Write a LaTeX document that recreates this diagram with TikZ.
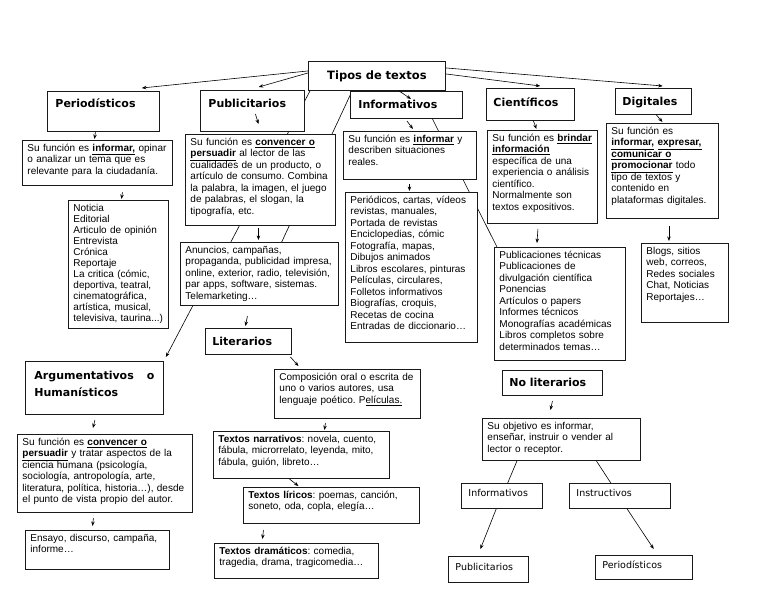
\documentclass[tikz,border=0pt]{standalone}
\usepackage{fontspec}
\setmainfont{Liberation Sans}
\newfontfamily\vfont{DejaVu Sans}
\usetikzlibrary{arrows.meta,calc}
\pgfdeclarelayer{bg}
\pgfdeclarelayer{lines}
\pgfsetlayers{bg,lines,main}
\newcommand\myul[1]{\underline{\textbf{#1}}}
\frenchspacing
\tikzset{
  bx/.style={draw=black!90, line width=0.9pt, fill=white, anchor=north west, inner xsep=5pt, inner ysep=3pt, text height=8pt, align=left, font=\fontsize{10}{11.5}\selectfont},
  hd/.style={draw=black!90, line width=0.9pt, fill=white, anchor=north west, inner xsep=7pt, inner ysep=4pt, align=left, font=\vfont\bfseries\fontsize{11}{17}\selectfont},
  sb/.style={draw=black!90, line width=0.9pt, fill=white, anchor=north west, inner xsep=7pt, inner ysep=3pt, align=left, font=\vfont\fontsize{9.5}{11}\selectfont},
  arr/.style={line width=0.6pt, -{Stealth[length=4.5pt,width=3.5pt]}},
  ln/.style={line width=0.6pt},
}
\begin{document}
\begin{tikzpicture}[x=1pt,y=-1pt]
\begin{pgfonlayer}{bg}
\fill[white] (0,0) rectangle (768,594);
\end{pgfonlayer}
\useasboundingbox (0,0) rectangle (768,594);

% headings
\node[hd, align=center, text width=123pt, text height=14pt, text depth=7pt, font=\vfont\bfseries\fontsize{11.5}{14}\selectfont] (tipos) at (308,61) {Tipos de textos};
\node[hd, inner xsep=8pt, text width=96pt, text height=12pt, text depth=20pt] (per) at (47,91) {Periodísticos};
\node[hd, inner xsep=8pt, text width=88pt, text height=13pt, text depth=20pt] (pub) at (200,90) {Publicitarios};
\node[hd, inner xsep=8pt, text width=96pt, text height=13pt, text depth=6pt] (inf) at (350,91) {Informativos};
\node[hd, text width=74pt, text height=14pt, text depth=10pt] (cie) at (486,88) {Científicos};
\node[hd, text width=62pt, text height=13pt, text depth=5pt] (dig) at (615,88) {Digitales};
\node[hd, text width=72pt, text height=13pt, text depth=5pt] (lit) at (205,328) {Literarios};
\node[hd, text width=86pt, text height=12pt, text depth=5pt] (nolit) at (502,370) {No literarios};
\node[hd, inner xsep=9pt, text width=120pt, text height=14pt, text depth=31pt] (arg) at (25,361) {Argumentativos\hskip 0pt plus 1filll\relax o\\Humanísticos};

% body boxes
\node[bx, text width=140pt, text depth=31pt] (perf) at (22,140) {Su función es \myul{informar,} opinar\\o analizar un tema que es\\relevante para la ciudadanía.};
\node[bx, text width=90pt, text depth=114pt, font=\fontsize{10}{11}\selectfont] (perl) at (68,200) {Noticia\\Editorial\\Articulo de opinión\\Entrevista\\Crónica\\Reportaje\\La critica (cómic,\\deportiva, teatral,\\cinematográfica,\\artística, musical,\\televisiva, taurina...)};
\node[bx, text width=140pt, text depth=77pt] (pubf) at (185,134) {Su función es \myul{convencer o}\\\myul{persuadir} al lector de las\\cualidades de un producto, o\\artículo de consumo. Combina\\la palabra, la imagen, el juego\\de palabras, el slogan, la\\tipografía, etc.};
\node[bx, text width=148pt, text depth=49pt] (publ) at (180,242) {Anuncios, campañas,\\propaganda, publicidad impresa,\\online, exterior, radio, televisión,\\par apps, software, sistemas.\\Telemarketing…};
\node[bx, text width=123pt, text depth=34pt] (inff) at (343,131) {Su función es \myul{informar} y\\describen situaciones\\reales.};
\node[bx, text width=122pt, text depth=136pt] (infl) at (345,192) {Periódicos, cartas, vídeos\\revistas, manuales,\\Portada de revistas\\Enciclopedias, cómic\\Fotografía, mapas,\\Dibujos animados\\Libros escolares, pinturas\\Películas, circulares,\\Folletos informativos\\Biografías, croquis,\\Recetas de cocina\\Entradas de diccionario…};
\node[bx, text width=100pt, text depth=79pt] (cief) at (487,130) {Su función es \myul{brindar}\\\myul{información}\\específica de una\\experiencia o análisis\\científico.\\Normalmente son\\textos expositivos.};
\node[bx, text width=121pt, text depth=99pt] (ciel) at (494,247) {Publicaciones técnicas\\Publicaciones de\\divulgación científica\\Ponencias\\Artículos o papers\\Informes técnicos\\Monografías académicas\\Libros completos sobre\\determinados temas…};
\node[bx, text width=102pt, text depth=81pt] (digf) at (606,123) {Su función es\\\myul{informar,} \myul{expresar,}\\\myul{comunicar o}\\\myul{promocionar} todo\\tipo de textos y\\contenido en\\plataformas digitales.};
\node[bx, text width=77pt, text depth=65pt] (digl) at (641,243) {Blogs, sitios\\web, correos,\\Redes sociales\\Chat, Noticias\\Reportajes…};
\node[bx, text width=165pt, text depth=64pt] (argf) at (17,434) {Su función es \myul{convencer o}\\\myul{persuadir} y tratar aspectos de la\\ciencia humana (psicología,\\sociología, antropología, arte,\\literatura, política, historia…), desde\\el punto de vista propio del autor.};
\node[bx, text width=134pt, text depth=25pt] (argl) at (25,530) {Ensayo, discurso, campaña,\\informe…};
\node[bx, text width=136pt, text depth=35pt] (comp) at (274,369) {Composición oral o escrita de\\uno o varios autores, usa\\lenguaje poético. P\underline{elículas.}};
\node[bx, text width=166pt, text depth=33pt] (nar) at (213,431) {\textbf{Textos narrativos}: novela, cuento,\\fábula, microrrelato, leyenda, mito,\\fábula, guión, libreto…};
\node[bx, text width=166pt, text depth=22pt] (lir) at (243,487) {\textbf{Textos líricos}: poemas, canción,\\soneto, oda, copla, elegía…};
\node[bx, text width=154pt, text depth=21pt] (dra) at (214,543) {\textbf{Textos dramáticos}: comedia,\\tragedia, drama, tragicomedia…};
\node[bx, text width=148pt, text depth=28pt] (obj) at (482,418) {Su objetivo es informar,\\enseñar, instruir o vender al\\lector o receptor.};

% small boxes
\node[sb, text width=67pt, text height=10pt, text depth=9pt] (sinf) at (461,483) {Informativos};
\node[sb, text width=87pt, text height=10pt, text depth=9pt] (sins) at (569,483) {Instructivos};
\node[sb, text width=66pt, text height=11pt, text depth=9pt] (spub) at (448,556) {Publicitarios};
\node[sb, text width=83pt, text height=10pt, text depth=8pt] (sper) at (595,555) {Periodísticos};

% lines partly hidden behind boxes
\begin{pgfonlayer}{lines}
\draw[ln] ($(tipos.south west)+(2,0)$) -- ($(publ.north west)!0.32!(publ.north east)$);
\draw[ln] ($(tipos.south west)!0.32!(tipos.south east)$) -- ($(publ.north west)!0.64!(publ.north east)$);
\draw[ln] ($(tipos.south west)!0.80!(tipos.south east)$) -- ($(ciel.north west)+(3,0)$);
\end{pgfonlayer}

% arrows from the title
\draw[arr] ([yshift=5pt]tipos.west) -- ($(per.north west)!0.84!(per.north east)+(0,-3)$);
\draw[arr] ([yshift=3pt]tipos.west) -- ($(pub.north west)!0.56!(pub.north east)+(0,-3)$);
\draw[arr] ($(tipos.south west)!0.66!(tipos.south east)$) -- ($(inf.north west)!0.54!(inf.north east)+(0,8)$);
\draw[arr] ([yshift=8pt]tipos.east) -- ($(dig.north west)!0.62!(dig.north east)+(0,-2)$);
\draw[arr] ([yshift=2pt]tipos.east) -- ($(cie.north west)!0.61!(cie.north east)+(0,-2)$);

% short arrows
\draw[arr] ([xshift=-2pt,yshift=8pt]perf.north) -- ([xshift=-3pt,yshift=1pt]perf.north);
\draw[arr] ([xshift=4pt,yshift=8pt]perl.north) -- ([xshift=3pt,yshift=1pt]perl.north);
\draw[arr] ([xshift=-5pt,yshift=20pt]pubf.north) -- ([xshift=-2pt,yshift=10pt]pubf.north);
\draw[arr] ([xshift=-1pt,yshift=14pt]publ.north) -- ([xshift=-1pt,yshift=2pt]publ.north);
\draw[arr] ([xshift=-3pt,yshift=10pt]inff.north) -- ([xshift=3pt,yshift=2pt]inff.north);
\draw[arr] ([xshift=-2pt,yshift=8pt]infl.north) -- ([xshift=-2pt,yshift=1pt]infl.north);
\draw[arr] ([xshift=-9pt,yshift=9pt]cief.north) -- ([xshift=-6pt,yshift=1pt]cief.north);
\draw[arr] ([xshift=-22pt,yshift=18pt]ciel.north) -- ([xshift=-23pt,yshift=4pt]ciel.north);
\draw[arr] ([xshift=-6pt,yshift=8pt]digf.north) -- ([xshift=0pt,yshift=1pt]digf.north);
\draw[arr] ([xshift=-16pt,yshift=17pt]digl.north) -- ([xshift=-16pt,yshift=2pt]digl.north);
\draw[arr] ([xshift=-10pt,yshift=14pt]argf.north) -- ([xshift=-12pt,yshift=6pt]argf.north);
\draw[arr] ([xshift=-4pt,yshift=12pt]argl.north) -- ([xshift=-5pt,yshift=4pt]argl.north);
\draw[arr] ([xshift=-57pt,yshift=12pt]comp.north) -- ([xshift=-49pt,yshift=3pt]comp.north);
\draw[arr] ([xshift=24pt,yshift=8pt]nar.north) -- ([xshift=23pt,yshift=1pt]nar.north);
\draw[arr] ([xshift=-42pt,yshift=8pt]lir.north) -- ([xshift=-33pt,yshift=1pt]lir.north);
\draw[arr] ([xshift=-33pt,yshift=13pt]dra.north) -- ([xshift=-34pt,yshift=4pt]dra.north);
\draw[arr] ([xshift=-9pt,yshift=17pt]obj.north) -- ([xshift=-11pt,yshift=8pt]obj.north);
\draw[arr] ([xshift=-1pt,yshift=12pt]lit.north) -- ([xshift=-3pt,yshift=2pt]lit.north);

% longer connectors
\draw[arr] ($(publ.south west)!0.08!(publ.south east)$) -- ($(arg.north east)+(2,-4)$);
\draw[ln] ($(obj.south west)!0.22!(obj.south east)$) -- ($(sinf.north west)!0.57!(sinf.north east)$);
\draw[ln] ($(obj.south west)!0.72!(obj.south east)$) -- ($(sins.north west)!0.41!(sins.north east)$);
\draw[arr] ($(sinf.south west)!0.43!(sinf.south east)$) -- ($(spub.north west)!0.40!(spub.north east)+(0,-7)$);
\draw[arr] ($(sins.south west)!0.57!(sins.south east)$) -- ($(sper.north west)!0.60!(sper.north east)+(0,-6)$);
\end{tikzpicture}
\end{document}
